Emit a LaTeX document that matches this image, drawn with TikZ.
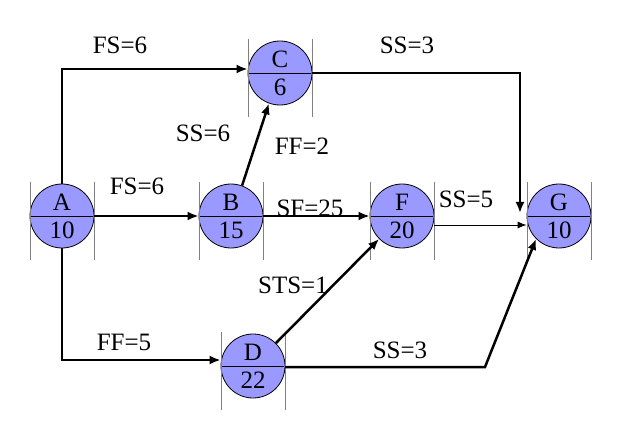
\documentclass[tikz,border=0pt]{standalone}
\usepackage{fontspec}
\setmainfont{Liberation Serif}
\usetikzlibrary{arrows.meta}
\definecolor{nodefill}{RGB}{153,153,255}
\begin{document}
\begin{tikzpicture}[x=1pt,y=-1pt,
  act/.style={circle,draw,line width=0.8pt,fill=nodefill,minimum size=64pt,inner sep=0pt},
  con/.style={line width=2.5pt,-{Latex[length=11pt,width=9pt]}},
  lbl/.style={font=\fontsize{25}{25}\selectfont,inner sep=0pt},
  side/.style={gray,line width=0.7pt}]
\useasboundingbox (0,0) rectangle (623,430);
\newcommand\actnode[4]{%
  \node[act] (#1) at (#2) {};
  \draw[line width=0.8pt] ([xshift=-31pt]#1.center) -- ([xshift=31pt]#1.center);
  \node[lbl] at ([yshift=14pt]#1.center) {#3};
  \node[lbl] at ([yshift=-14pt]#1.center) {#4};
  \draw[side] ([xshift=-32pt,yshift=34pt]#1.center) -- ([xshift=-32pt,yshift=-44pt]#1.center);
  \draw[side] ([xshift=32pt,yshift=34pt]#1.center) -- ([xshift=32pt,yshift=-44pt]#1.center);
}
\actnode{A}{62,216}{A}{10}
\actnode{B}{231,216}{B}{15}
\actnode{C}{280,73}{C}{6}
\actnode{F}{402,216}{F}{20}
\actnode{G}{559,216}{G}{10}
\actnode{D}{253,366}{D}{22}
\coordinate (c1) at (62,69);
\coordinate (c2) at (62,360);
\coordinate (c3) at (520,73);
\coordinate (c4) at (485,367);
\coordinate (g1) at (520,213);
\coordinate (d1) at (285,367);
\draw[con] (A.north) -- (c1) -- (C.west|-c1);
\draw[con] (A.east) -- (B.west);
\draw[con] (A.south) -- (c2) -- (D.west|-c2);
\draw[con] (B.70) -- (C.250);
\draw[con] (B.east) -- (F.west);
\draw[-{Latex[length=9pt,width=7pt]},line width=0.8pt] ([yshift=-9pt]F.east) -- ([yshift=-9pt]G.west);
\draw[con] (C.east) -- (c3) -- (g1);
\draw[con] (D.north east) -- (F.south west);
\draw[con] (d1) -- (c4) -- (G.south west);
\node[lbl] at (120,45) {FS=6};
\node[lbl] at (407,45) {SS=3};
\node[lbl] at (137,186) {FS=6};
\node[lbl] at (203,133) {SS=6};
\node[lbl] at (302,146) {FF=2};
\node[lbl] at (310,208) {SF=25};
\node[lbl] at (466,199) {SS=5};
\node[lbl] at (293,285) {STS=1};
\node[lbl] at (124,342) {FF=5};
\node[lbl] at (400,350) {SS=3};
\end{tikzpicture}
\end{document}
